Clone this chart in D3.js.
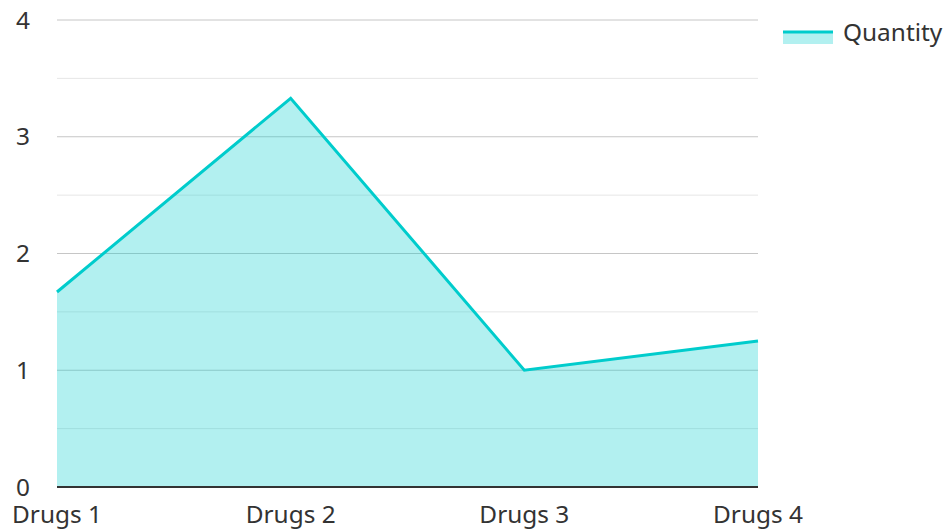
<!DOCTYPE html>
<html><head><meta charset="utf-8">
<script src="https://cdn.jsdelivr.net/npm/d3@7/dist/d3.min.js"></script>
<style>body{margin:0;background:#fff;}svg{display:block;font-family:"Noto Sans","Open Sans",sans-serif;}</style>
</head><body>
<svg id="chart" width="945" height="529"></svg>
<script>
const categories = ["Drugs 1","Drugs 2","Drugs 3","Drugs 4"];
const quantity = [1.67, 3.33, 1.0, 1.25];
const yTicks = [0,1,2,3,4];
const yMinor = [0.5,1.5,2.5,3.5];
const seriesName = "Quantity";

(function(){
const svg = d3.select("#chart");
const mLeft = 57, mRight = 758, mTop = 20, mBottom = 487;
const x = d3.scalePoint().domain(categories).range([mLeft,mRight]);
const y = d3.scaleLinear().domain([0,4]).range([mBottom,mTop]);
const lineColor = "rgb(0,204,204)";
const textColor = "#333";
const fs = 24.4;

svg.append("g").selectAll("line").data(yMinor).join("line")
  .attr("x1",mLeft).attr("x2",mRight).attr("y1",d=>y(d)).attr("y2",d=>y(d))
  .attr("stroke","#e6e6e6").attr("stroke-width",1);
svg.append("g").selectAll("line").data(yTicks.filter(d=>d>0)).join("line")
  .attr("x1",mLeft).attr("x2",mRight).attr("y1",d=>y(d)).attr("y2",d=>y(d))
  .attr("stroke","#c6c6c6").attr("stroke-width",1);

const data = categories.map((c,i)=>({c,v:quantity[i]}));
svg.append("path").datum(data)
  .attr("d", d3.area().x(d=>x(d.c)).y0(y(0)).y1(d=>y(d.v)))
  .attr("fill","rgba(0,204,204,0.3)");
svg.append("path").datum(data)
  .attr("d", d3.line().x(d=>x(d.c)).y(d=>y(d.v)))
  .attr("fill","none").attr("stroke",lineColor).attr("stroke-width",3).attr("stroke-linejoin","miter");

svg.append("line").attr("x1",mLeft).attr("x2",mRight).attr("y1",y(0)).attr("y2",y(0))
  .attr("stroke","#333").attr("stroke-width",2);

svg.append("g").selectAll("text").data(yTicks).join("text")
  .attr("x",30).attr("y",d=>y(d)).attr("dy","0.35em").attr("text-anchor","end")
  .attr("font-size",fs).attr("fill",textColor).text(d=>d);

svg.append("g").selectAll("text").data(categories).join("text")
  .attr("x",d=>x(d)).attr("y",523).attr("text-anchor","middle")
  .attr("font-size",fs).attr("fill",textColor).text(d=>d);

const lg = svg.append("g");
lg.append("rect").attr("x",783).attr("y",32).attr("width",50).attr("height",12).attr("fill","rgba(0,204,204,0.3)");
lg.append("line").attr("x1",783).attr("x2",833).attr("y1",32).attr("y2",32).attr("stroke",lineColor).attr("stroke-width",3);
lg.append("text").attr("x",843).attr("y",32).attr("dy","0.35em").attr("font-size",fs).attr("fill",textColor).text(seriesName);
})();
</script>
</body></html>
